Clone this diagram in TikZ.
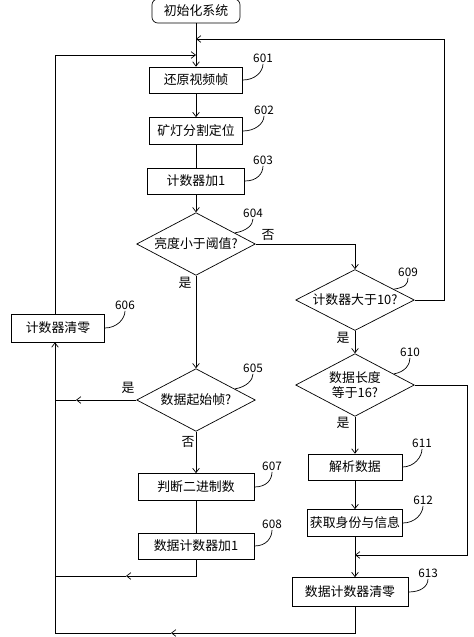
\documentclass[tikz,border=0pt]{standalone}
\usepackage{fontspec}
\newfontfamily\cjk{Noto Sans CJK SC}
\usetikzlibrary{shapes.geometric, arrows.meta, calc}

\begin{document}
\begin{tikzpicture}[x=0.03cm, y=-0.03cm, line width=0.6pt,
	>={Straight Barb[length=1.3mm, width=2mm]},
	every node/.style={font=\cjk\fontsize{11}{13}\selectfont},
	box/.style={draw, inner sep=1pt, minimum width=2.79cm, minimum height=0.78cm},
	dia/.style={draw, diamond, aspect=1.9, inner sep=0pt, minimum width=3.56cm, minimum height=1.88cm, align=center},
	num/.style={font=\cjk\fontsize{10}{12}\selectfont, inner sep=1pt}]
	\useasboundingbox (0,0) rectangle (474,637);

	% joints of the loops
	\coordinate (J1) at (196,39);
	\coordinate (J2) at (196,55);
	\coordinate (L1) at (55,55);
	\coordinate (L2) at (55,400);
	\coordinate (L3) at (55,576);
	\coordinate (L4) at (55,633);
	\coordinate (A605) at (76,400);
	\coordinate (A608) at (126,576);
	\coordinate (A613) at (171,633);
	\coordinate (R1) at (444,39);
	\coordinate (R2) at (467,385);
	\coordinate (R3) at (467,555);
	\coordinate (M1) at (355,555);

	% left column
	\node [draw, rounded corners=5pt, minimum width=2.64cm, minimum height=0.72cm] (init) at (196,11) {初始化系统};
	\node [box] (b601) at (196,80) {还原视频帧};
	\node [box, minimum height=0.81cm] (b602) at (196,131) {矿灯分割定位};
	\node [box, minimum width=2.91cm] (b603) at (196,181) {计数器加1};
	\node [dia] (d604) at (196,244) {亮度小于阈值?};
	\node [dia] (d605) at (196,400) {数据起始帧?};
	\node [box, minimum width=3.48cm, minimum height=0.81cm] (b607) at (196,487) {判断二进制数};
	\node [box, minimum width=3.48cm] (b608) at (196,546) {数据计数器加1};
	\node [box, minimum height=0.84cm] (b606) at (58,328) {计数器清零};

	% right column
	\node [dia, minimum height=1.83cm] (d609) at (355,300) {计数器大于10?};
	\node [dia] (d610) at (355,385) {数据长度\\等于16?};
	\node [box, minimum width=2.82cm] (b611) at (355,467) {解析数据};
	\node [box, minimum width=2.85cm, minimum height=0.81cm] (b612) at (355,523) {获取身份与信息};
	\node [box, minimum width=3.48cm, minimum height=0.87cm] (b613) at (350,592) {数据计数器清零};

	% yes / no
	\node (n604) at (268,235) {否};
	\node (y604) at (185,283) {是};
	\node (y605) at (128,388) {是};
	\node (n605) at (188,442) {否};
	\node (y609) at (343,338) {是};
	\node (y610) at (343,423) {是};

	% reference numbers
	\node [num] (l601) at (263,58) {601};
	\node [num] (l602) at (264,110) {602};
	\node [num] (l603) at (263,160) {603};
	\node [num] (l604) at (253,213) {604};
	\node [num] (l605) at (253,368) {605};
	\node [num] (l606) at (125,305) {606};
	\node [num] (l607) at (272,466) {607};
	\node [num] (l608) at (272,524) {608};
	\node [num] (l609) at (408,272) {609};
	\node [num] (l610) at (410,352) {610};
	\node [num] (l611) at (422,443) {611};
	\node [num] (l612) at (423,500) {612};
	\node [num] (l613) at (428,573) {613};

	\draw (b601.east) .. controls +(12,0) and +(0,8) .. (l601.south);
	\draw (b602.east) .. controls +(12,0) and +(0,8) .. (l602.south);
	\draw (b603.east) .. controls +(12,0) and +(0,8) .. (l603.south);
	\draw ($(d604.north)!0.65!(d604.east)$) .. controls +(12,-2) and +(0,6) .. (l604.south);
	\draw ($(d605.north)!0.65!(d605.east)$) .. controls +(12,-2) and +(0,6) .. (l605.south);
	\draw (b606.east) .. controls +(12,0) and +(0,8) .. (l606.south);
	\draw (b607.east) .. controls +(12,0) and +(0,8) .. (l607.south);
	\draw (b608.east) .. controls +(12,0) and +(0,8) .. (l608.south);
	\draw ($(d609.north)!0.65!(d609.east)$) .. controls +(12,-2) and +(0,6) .. (l609.south);
	\draw ($(d610.north)!0.65!(d610.east)$) .. controls +(12,-2) and +(0,6) .. (l610.south);
	\draw (b611.east) .. controls +(12,0) and +(0,8) .. (l611.south);
	\draw (b612.east) .. controls +(12,0) and +(0,8) .. (l612.south);
	\draw (b613.east) .. controls +(12,0) and +(0,8) .. (l613.south);

	% main flow
	\draw [->] (init) -- (b601);
	\draw [->] (b601) -- (b602);
	\draw (b602) -- (b603);
	\draw [->] (b603) -- (d604);
	\draw [->] (d604) -- (d605);
	\draw [->] (d605) -- (b607);
	\draw (b607) -- (b608);
	\draw [->] (d604.east) -| (d609.north);
	\draw [->] (d609) -- (d610);
	\draw [->] (d610) -- (b611);
	\draw [->] (b611) -- (b612);
	\draw [->] (b612.south) -- (b612.south |- b613.north);

	% loops back
	\draw [->] (d609.east) -| (R1) -- (J1);
	\draw [->] (d610.east) -- (R2) -- (R3) -- (M1);
	\draw [->] (d605.west) -- (A605);
	\draw (A605) -- (L2);
	\draw [->] (b608.south) |- (A608);
	\draw (A608) -- (L3);
	\draw [->] (b613.south -| M1) |- (A613);
	\draw (A613) -- (L4);
	\draw [->] (L4) -- (b606.south -| L4);
	\draw [->] (b606.north -| L1) -- (L1) -- (J2);
\end{tikzpicture}
\end{document}
